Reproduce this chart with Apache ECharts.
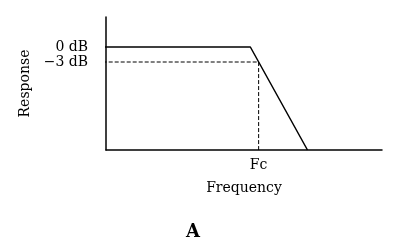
<!DOCTYPE html>
<html><head><meta charset="utf-8">
<script src="https://cdn.jsdelivr.net/npm/echarts@6/dist/echarts.min.js"></script>
<style>html,body{margin:0;padding:0;background:#fff}#c{width:400px;height:250px}</style>
</head><body><div id="c"></div>
<script>
// Data (frequency in arbitrary units, response in dB)
const responseFreq = [-1.6, 52.3, 73.0];
const responseDb = [0, 0, -20.6];
const cutoffFreq = [-1.2, 55.3, 55.3];
const cutoffDb = [-3, -3, -20.6];
const yTickValues = [0, -3];
const yTickLabels = ['0 dB', '\u22123 dB'];
const xTickValues = [55.3];
const xTickLabels = ['Fc'];

const font = 'DejaVu Serif';
const chart = echarts.init(document.getElementById('c'));
chart.setOption({
  animation: false,
  backgroundColor: '#fff',
  title: { text: 'A', left: 181, top: 218, textStyle: { fontFamily: font, fontWeight: 'bold', fontSize: 18, color: '#000' } },
  grid: { left: 106, right: 18, top: 17, bottom: 100 },
  xAxis: {
    type: 'value', min: 0, max: 100,
    axisLine: { onZero: false, lineStyle: { color: '#000', width: 1.5 } },
    axisTick: { show: false }, splitLine: { show: false },
    axisLabel: { customValues: xTickValues, formatter: v => xTickLabels[xTickValues.indexOf(v)] || '', color: '#000', fontFamily: font, fontSize: 14, margin: 8 },
    name: 'Frequency', nameLocation: 'middle', nameGap: 31,
    nameTextStyle: { fontFamily: font, fontSize: 14, color: '#000' }
  },
  yAxis: {
    type: 'value', min: -20.6, max: 6,
    axisLine: { show: true, onZero: false, lineStyle: { color: '#000', width: 1.5 } },
    axisTick: { show: false }, splitLine: { show: false },
    axisLabel: { customValues: yTickValues, formatter: v => yTickLabels[yTickValues.indexOf(v)] || '', color: '#000', fontFamily: font, fontSize: 14, margin: 18 },
    name: 'Response', nameLocation: 'middle', nameGap: 74, nameRotate: 90,
    nameTextStyle: { fontFamily: font, fontSize: 14, color: '#000' }
  },
  series: [
    { type: 'line', data: responseFreq.map((f, i) => [f, responseDb[i]]), clip: false, symbol: 'none',
      lineStyle: { color: '#000', width: 1.5 } },
    { type: 'line', data: cutoffFreq.map((f, i) => [f, cutoffDb[i]]), clip: false, symbol: 'none',
      lineStyle: { color: '#000', width: 1, type: [4, 2] } }
  ]
});
</script></body></html>
